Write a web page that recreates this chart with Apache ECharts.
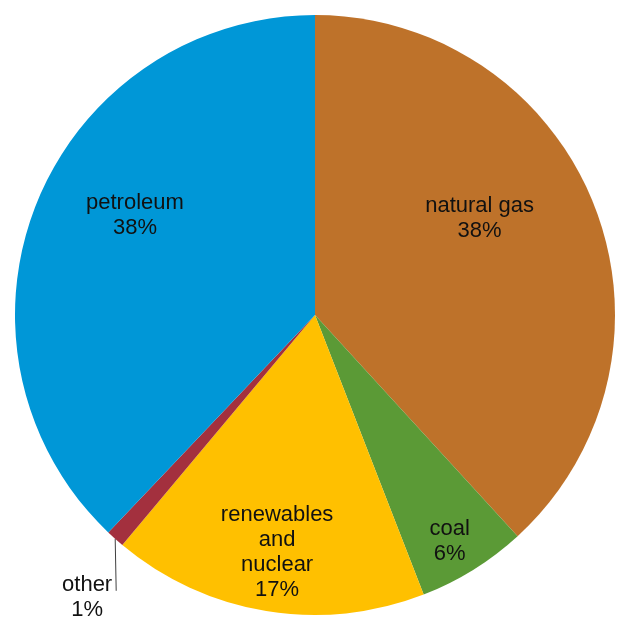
<!DOCTYPE html>
<html>
<head>
<meta charset="utf-8">
<script src="https://cdn.jsdelivr.net/npm/echarts@6/dist/echarts.min.js"></script>
<style>
html,body{margin:0;padding:0;background:#fff;}
#chart{width:644px;height:634px;}
</style>
</head>
<body>
<div id="chart"></div>
<script>
const categories = ['natural gas', 'coal', 'renewables and nuclear', 'other', 'petroleum'];
const shares = [38.2, 5.9, 17.0, 1.0, 37.9];
const percentLabels = ['38%', '6%', '17%', '1%', '38%'];
const sliceColors = ['#BE722A', '#5B9A36', '#FFC000', '#A3303E', '#0097D7'];
// label offsets from the default inside label position (px)
const labelShift = [[22, -41], [54, 96], [-13, 86], [0, 0], [-38, -43]];

const chart = echarts.init(document.getElementById('chart'), null, {renderer: 'canvas'});

const data = categories.map((c, i) => ({
  name: c,
  value: shares[i],
  itemStyle: {color: sliceColors[i]},
  label: i === 3 ? {position: 'outside'} : {position: 'inside'},
  labelLine: {show: i === 3, lineStyle: {color: '#404040', width: 1}}
}));

chart.setOption({
  animation: false,
  backgroundColor: '#ffffff',
  series: [{
    type: 'pie',
    center: [315, 315],
    radius: 300,
    startAngle: 90,
    clockwise: true,
    avoidLabelOverlap: false,
    data: data,
    itemStyle: {borderWidth: 0},
    label: {
      show: true,
      color: '#111111',
      fontFamily: 'Liberation Sans, Arial, sans-serif',
      fontSize: 22,
      lineHeight: 25,
      align: 'center',
      formatter: function (p) {
        return p.name.replace(' and ', '\nand\n') + '\n' + percentLabels[p.dataIndex];
      }
    },
    labelLine: {length: 20, length2: 0},
    labelLayout: function (params) {
      const i = params.dataIndex;
      const r = params.labelRect;
      if (i === 3) {
        const p0 = params.labelLinePoints[0];
        const p1 = [p0[0] + 1, p0[1] + 52];
        return {
          x: p1[0] - 4 - r.width / 2,
          y: p1[1] + 7,
          align: 'center',
          verticalAlign: 'middle',
          labelLinePoints: [p0, p1, p1]
        };
      }
      return {
        x: r.x + r.width / 2 + labelShift[i][0],
        y: r.y + r.height / 2 + labelShift[i][1],
        align: 'center',
        verticalAlign: 'middle'
      };
    }
  }]
});
</script>
</body>
</html>
